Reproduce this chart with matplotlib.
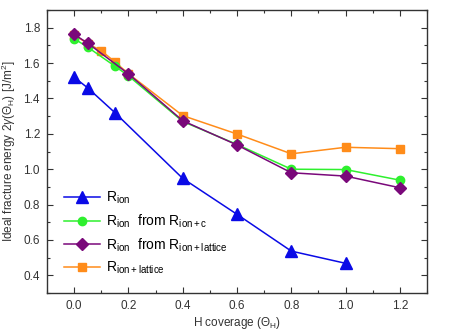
import matplotlib.pyplot as plt
from matplotlib.ticker import MultipleLocator

plt.rcParams['font.family'] = ['Liberation Sans', 'DejaVu Sans']
plt.rcParams['mathtext.fontset'] = 'custom'
plt.rcParams['mathtext.rm'] = 'Liberation Sans'
plt.rcParams['mathtext.it'] = 'Liberation Sans:italic'

# coverage values and fracture energies (J/m^2)
x_ion = [0.0, 0.05, 0.15, 0.4, 0.6, 0.8, 1.0]
y_ion = [1.52, 1.46, 1.32, 0.948, 0.745, 0.537, 0.468]

x_c = [0.0, 0.05, 0.15, 0.2, 0.4, 0.6, 0.8, 1.0, 1.2]
y_c = [1.738, 1.69, 1.583, 1.528, 1.27, 1.14, 1.0, 0.998, 0.938]

x_lat = [0.0, 0.05, 0.2, 0.4, 0.6, 0.8, 1.0, 1.2]
y_lat = [1.762, 1.713, 1.539, 1.274, 1.137, 0.98, 0.961, 0.895]

x_il = [0.0, 0.05, 0.1, 0.15, 0.2, 0.4, 0.6, 0.8, 1.0, 1.2]
y_il = [1.76, 1.71, 1.67, 1.607, 1.54, 1.303, 1.199, 1.087, 1.124, 1.116]

fig = plt.figure(figsize=(4.74, 3.33), dpi=100)
ax = fig.add_axes([0.099, 0.120, 0.802, 0.850])

l1, = ax.plot(x_ion, y_ion, '-^', color='#0a0ae6', lw=1.1, ms=8, zorder=3,
              label=r'R$_{\mathrm{ion}}$')
l4, = ax.plot(x_il, y_il, '-s', color='#ff8c1a', lw=1.1, ms=5.5, zorder=3,
              label=r'R$_{\mathrm{ion+lattice}}$')
l2, = ax.plot(x_c, y_c, '-o', color='#2ef02e', lw=1.1, ms=6, zorder=4,
              label=r'R$_{\mathrm{ion}}$  from R$_{\mathrm{ion+c}}$')
l3, = ax.plot(x_lat, y_lat, '-D', color='#7a087a', lw=1.1, ms=6.5, zorder=5,
              label=r'R$_{\mathrm{ion}}$  from R$_{\mathrm{ion+lattice}}$')

ax.set_xlim(-0.1, 1.3)
ax.set_ylim(0.3, 1.9)
ax.xaxis.set_major_locator(MultipleLocator(0.2))
ax.xaxis.set_minor_locator(MultipleLocator(0.1))
ax.yaxis.set_major_locator(MultipleLocator(0.2))
ax.yaxis.set_minor_locator(MultipleLocator(0.1))
ax.tick_params(which='both', direction='in', top=True, right=True,
               labelsize=8.5, width=0.8, colors='#333333', labelcolor='#333333')
ax.tick_params(which='major', length=4.5, pad=5)
ax.tick_params(which='minor', length=2.5)
for s in ax.spines.values():
    s.set_linewidth(1.0)
    s.set_color('#333333')

ax.set_xlabel(r'H coverage ($\mathrm{\Theta_H}$)', fontsize=8.5, color='#333333',
              labelpad=2)
ax.set_ylabel(r'Ideal fracture energy 2$\gamma$($\mathrm{\Theta_H}$) [J/m$^2$]',
              fontsize=8.5, color='#333333')

ax.legend(handles=[l1, l2, l3, l4], loc='lower left', frameon=False,
          fontsize=10, handlelength=2.6, handletextpad=0.4, labelspacing=0.45,
          borderaxespad=0.0, bbox_to_anchor=(0.03, 0.04))

fig.savefig('out.png', dpi=100)
